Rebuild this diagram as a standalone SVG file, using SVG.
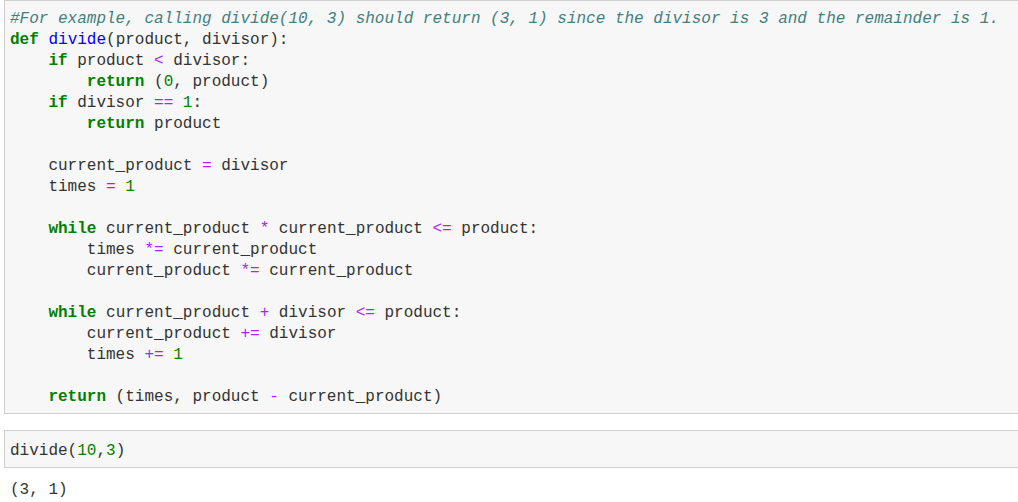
<svg xmlns="http://www.w3.org/2000/svg" width="1018" height="502" viewBox="0 0 1018 502">
<style>
text{font-family:"Liberation Mono","DejaVu Sans Mono",monospace;font-size:16px;fill:#333;white-space:pre}
.c{fill:#408080;font-style:italic}.k{fill:#008000;font-weight:bold}.f{fill:#0000ff}.o{fill:#aa22ff}.n{fill:#008000}
</style>
<rect width="1018" height="502" fill="#fff"/>
<rect x="4.5" y="0.5" width="1020" height="413" fill="#f7f7f7" stroke="#cfcfcf"/>
<rect x="4.5" y="430.5" width="1020" height="37" fill="#f7f7f7" stroke="#cfcfcf"/>
<text x="10" y="23" class="c">#For example, calling divide(10, 3) should return (3, 1) since the divisor is 3 and the remainder is 1.</text>
<text x="10" y="44"><tspan class="k">def</tspan> <tspan class="f">divide</tspan>(product, divisor):</text>
<text x="10" y="65">    <tspan class="k">if</tspan> product <tspan class="o">&lt;</tspan> divisor:</text>
<text x="10" y="86">        <tspan class="k">return</tspan> (<tspan class="n">0</tspan>, product)</text>
<text x="10" y="107">    <tspan class="k">if</tspan> divisor <tspan class="o">==</tspan> <tspan class="n">1</tspan>:</text>
<text x="10" y="128">        <tspan class="k">return</tspan> product</text>
<text x="10" y="170">    current_product <tspan class="o">=</tspan> divisor</text>
<text x="10" y="191">    times <tspan class="o">=</tspan> <tspan class="n">1</tspan></text>
<text x="10" y="233">    <tspan class="k">while</tspan> current_product <tspan class="o">*</tspan> current_product <tspan class="o">&lt;=</tspan> product:</text>
<text x="10" y="254">        times <tspan class="o">*=</tspan> current_product</text>
<text x="10" y="275">        current_product <tspan class="o">*=</tspan> current_product</text>
<text x="10" y="317">    <tspan class="k">while</tspan> current_product <tspan class="o">+</tspan> divisor <tspan class="o">&lt;=</tspan> product:</text>
<text x="10" y="338">        current_product <tspan class="o">+=</tspan> divisor</text>
<text x="10" y="359">        times <tspan class="o">+=</tspan> <tspan class="n">1</tspan></text>
<text x="10" y="401">    <tspan class="k">return</tspan> (times, product <tspan class="o">-</tspan> current_product)</text>
<text x="10" y="455">divide(<tspan class="n">10</tspan>,<tspan class="n">3</tspan>)</text>
<text x="10" y="494">(3, 1)</text>
</svg>
